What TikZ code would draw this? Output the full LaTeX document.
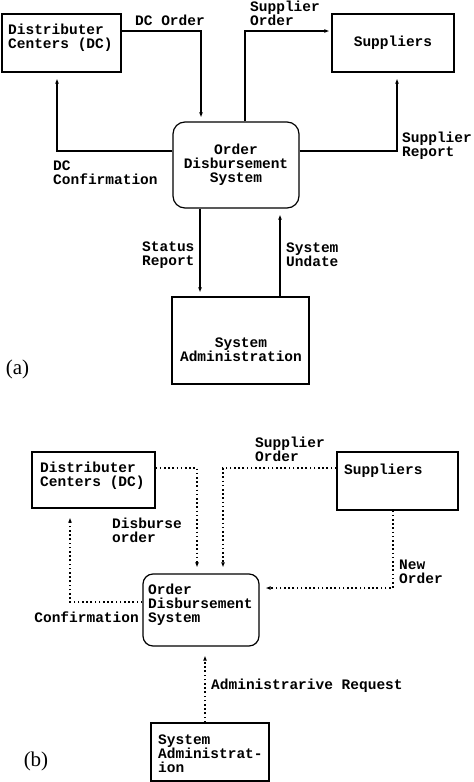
\documentclass[tikz,border=0pt]{standalone}
\usepackage{fontspec}
\setmainfont{Liberation Serif}
\setmonofont{Liberation Mono}
\usetikzlibrary{arrows.meta}

\begin{document}
\begin{tikzpicture}[x=1pt,y=-1pt,font=\ttfamily\bfseries\fontsize{14.5}{14}\selectfont,
  box/.style={draw,line width=1.2pt,inner sep=0pt},
  proc/.style={box,rounded corners=12pt},
  txt/.style={inner sep=0pt,align=left},
  tag/.style={inner sep=0pt,font=\rmfamily\fontsize{21}{21}\selectfont},
  flow/.style={line width=1.2pt,-{Latex[length=5pt,width=4pt]},shorten >=4pt},
  dflow/.style={flow,line width=1.6pt,dash pattern=on 1.6pt off 2.6pt,shorten >=6pt}]
\useasboundingbox (0,0) rectangle (474,782);
% (a) context diagram
\node[box,minimum width=119pt,minimum height=58pt] (dcA) at (61.5,43) {};
\node[txt,anchor=west] (dcAlbl) at (8,37.5) {Distributer\\Centers (DC)};
\node[box,minimum width=122pt,minimum height=58pt] (supA) at (393,43) {Suppliers};
\node[proc,minimum width=126pt,minimum height=86pt,align=center] (odsA) at (236,165) {Order\\Disbursement\\System};
\node[box,minimum width=137pt,minimum height=87pt] (saA) at (240.5,340.5) {};
\node[txt,align=center] (saAlbl) at (241,350) {System\\Administration};
\node[txt] (lDcOrder) at (170,20) {DC Order};
\node[txt,anchor=west] (lSupOrderA) at (250,13.5) {Supplier\\Order};
\node[txt,anchor=west] (lDcConf) at (53,172.5) {DC\\Confirmation};
\node[txt,anchor=west] (lSupReport) at (402,145.5) {Supplier\\Report};
\node[txt,anchor=west] (lStatus) at (142,255) {Status\\Report};
\node[txt,anchor=west] (lUpdate) at (286,255) {System\\Undate};
\node[tag] (tagA) at (17.5,369) {(a)};
\draw[flow] ([yshift=12pt]dcA.east) -| ([xshift=-35pt]odsA.north);
\draw[flow,shorten >=2pt] ([xshift=9pt]odsA.north) |- ([yshift=12pt]supA.west);
\draw[flow,shorten >=6pt] ([yshift=14pt]odsA.west) -| ([xshift=-4.5pt]dcA.south);
\draw[flow,shorten >=6pt] ([yshift=14pt]odsA.east) -| ([xshift=4pt]supA.south);
\draw[flow] ([xshift=-36pt]odsA.south) -- ([xshift=-36pt]odsA.south |- saA.north);
\draw[flow,shorten >=6pt] ([xshift=39.5pt]saA.north) -- ([xshift=39.5pt]saA.north |- odsA.south);
% (b) dotted flows
\node[box,minimum width=123pt,minimum height=56pt] (dcB) at (93.5,480) {};
\node[txt,anchor=west] (dcBlbl) at (40,475.5) {Distributer\\Centers (DC)};
\node[box,minimum width=121pt,minimum height=58pt] (supB) at (397.5,481) {};
\node[txt,anchor=west] (supBlbl) at (344,471) {Suppliers};
\node[proc,rounded corners=10pt,minimum width=116pt,minimum height=72pt] (odsB) at (201,610) {};
\node[txt,anchor=west] (odsBlbl) at (148,604.5) {Order\\Disbursement\\System};
\node[box,minimum width=118pt,minimum height=58pt] (saB) at (210,752) {};
\node[txt,anchor=west] (saBlbl) at (158,754) {System\\Administrat-\\ion};
\node[txt,anchor=west] (lSupOrderB) at (255,449.5) {Supplier\\Order};
\node[txt,anchor=west] (lDisburse) at (112,530.5) {Disburse\\order};
\node[txt,anchor=west] (lNewOrder) at (399,572) {New\\Order};
\node[txt,anchor=east] (lConfB) at (139,617) {Confirmation};
\node[txt,anchor=west] (lAdmin) at (211,686) {Administrarive Request};
\node[tag] (tagB) at (36,761) {(b)};
\draw[dflow] ([yshift=12pt]dcB.east) -| ([xshift=-4pt]odsB.north);
\draw[dflow] ([yshift=13pt]supB.west) -| ([xshift=22pt]odsB.north);
\draw[dflow,shorten >=9pt] ([yshift=8pt]odsB.west) -| ([xshift=-23.5pt]dcB.south);
\draw[dflow] ([xshift=-4.5pt]supB.south) |- ([yshift=22pt]odsB.east);
\draw[dflow,shorten >=9pt] ([xshift=-5pt]saB.north) -- ([xshift=-5pt]saB.north |- odsB.south);
\end{tikzpicture}
\end{document}
